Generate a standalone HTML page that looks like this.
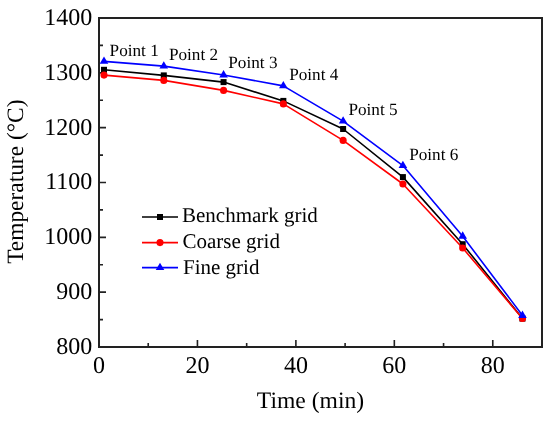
<!DOCTYPE html><html><head><meta charset="utf-8"><style>
html,body{margin:0;padding:0;background:#fff;width:550px;height:422px;overflow:hidden}
svg{display:block}
text{text-rendering:geometricPrecision;font-family:"Liberation Serif","Times New Roman",serif;fill:#000}
</style></head><body>
<svg width="550" height="422" viewBox="0 0 550 422">
<path d="M100 319.58h3M100 292.17h6M100 264.75h3M100 237.33h6M100 209.92h3M100 182.50h6M100 155.08h3M100 127.67h6M100 100.25h3M100 72.83h6M100 45.42h3M148.22 346v-3M197.44 346v-6M246.67 346v-3M295.89 346v-6M345.11 346v-3M394.33 346v-6M443.56 346v-3M492.78 346v-6" stroke="#222" stroke-width="1.6" fill="none"/>
<rect x="99" y="18" width="443" height="329" fill="none" stroke="#222" stroke-width="2"/>
<text x="92.3" y="353.8" font-size="24" text-anchor="end">800</text>
<text x="92.3" y="299.0" font-size="24" text-anchor="end">900</text>
<text x="92.3" y="244.1" font-size="24" text-anchor="end">1000</text>
<text x="92.3" y="189.3" font-size="24" text-anchor="end">1100</text>
<text x="92.3" y="134.5" font-size="24" text-anchor="end">1200</text>
<text x="92.3" y="79.6" font-size="24" text-anchor="end">1300</text>
<text x="92.3" y="24.8" font-size="24" text-anchor="end">1400</text>
<text x="99.0" y="372.5" font-size="24" text-anchor="middle">0</text>
<text x="197.4" y="372.5" font-size="24" text-anchor="middle">20</text>
<text x="295.9" y="372.5" font-size="24" text-anchor="middle">40</text>
<text x="394.3" y="372.5" font-size="24" text-anchor="middle">60</text>
<text x="492.8" y="372.5" font-size="24" text-anchor="middle">80</text>
<text x="310.5" y="408.4" font-size="23.6" text-anchor="middle">Time (min)</text>
<text transform="translate(22.8 181.7) rotate(-90)" font-size="23.4" text-anchor="middle">Temperature (°C)</text>
<polyline points="104.0,69.8 163.8,75.4 223.6,82.1 283.3,100.9 343.1,129.0 402.9,177.1 462.7,244.2 522.5,318.6" fill="none" stroke="#000" stroke-width="1.6" stroke-linejoin="round"/>
<rect x="101.00" y="66.80" width="6" height="6" fill="#000"/>
<rect x="160.78" y="72.40" width="6" height="6" fill="#000"/>
<rect x="220.56" y="79.10" width="6" height="6" fill="#000"/>
<rect x="280.34" y="97.90" width="6" height="6" fill="#000"/>
<rect x="340.12" y="126.00" width="6" height="6" fill="#000"/>
<rect x="399.90" y="174.10" width="6" height="6" fill="#000"/>
<rect x="459.68" y="241.20" width="6" height="6" fill="#000"/>
<rect x="519.46" y="315.60" width="6" height="6" fill="#000"/>
<polyline points="104.0,75.1 163.8,80.4 223.6,90.4 283.3,103.9 343.1,140.4 402.9,184.0 462.7,248.0 522.5,318.5" fill="none" stroke="#f00" stroke-width="1.6" stroke-linejoin="round"/>
<circle cx="104.00" cy="75.10" r="3.55" fill="#f00"/>
<circle cx="163.78" cy="80.40" r="3.55" fill="#f00"/>
<circle cx="223.56" cy="90.40" r="3.55" fill="#f00"/>
<circle cx="283.34" cy="103.90" r="3.55" fill="#f00"/>
<circle cx="343.12" cy="140.40" r="3.55" fill="#f00"/>
<circle cx="402.90" cy="184.00" r="3.55" fill="#f00"/>
<circle cx="462.68" cy="248.00" r="3.55" fill="#f00"/>
<circle cx="522.46" cy="318.50" r="3.55" fill="#f00"/>
<polyline points="104.0,61.4 163.8,66.1 223.6,75.0 283.3,85.9 343.1,121.1 402.9,165.6 462.7,236.3 522.5,315.5" fill="none" stroke="#00f" stroke-width="1.6" stroke-linejoin="round"/>
<polygon points="104.00,56.47 99.70,63.87 108.30,63.87" fill="#00f"/>
<polygon points="163.78,61.17 159.48,68.57 168.08,68.57" fill="#00f"/>
<polygon points="223.56,70.07 219.26,77.47 227.86,77.47" fill="#00f"/>
<polygon points="283.34,80.97 279.04,88.37 287.64,88.37" fill="#00f"/>
<polygon points="343.12,116.17 338.82,123.57 347.42,123.57" fill="#00f"/>
<polygon points="402.90,160.67 398.60,168.07 407.20,168.07" fill="#00f"/>
<polygon points="462.68,231.37 458.38,238.77 466.98,238.77" fill="#00f"/>
<polygon points="522.46,310.57 518.16,317.97 526.76,317.97" fill="#00f"/>
<text x="109.6" y="55.5" font-size="17.2">Point 1</text>
<text x="168.9" y="59.9" font-size="17.2">Point 2</text>
<text x="228.3" y="67.6" font-size="17.2">Point 3</text>
<text x="289.2" y="80.1" font-size="17.2">Point 4</text>
<text x="348.4" y="115.0" font-size="17.2">Point 5</text>
<text x="409.2" y="159.9" font-size="17.2">Point 6</text>
<path d="M142 217H178" stroke="#000" stroke-width="1.6"/>
<rect x="157.00" y="214.00" width="6" height="6" fill="#000"/>
<path d="M142 242.6H178" stroke="#f00" stroke-width="1.6"/>
<circle cx="160.00" cy="242.60" r="3.55" fill="#f00"/>
<path d="M142 267.6H178" stroke="#00f" stroke-width="1.6"/>
<polygon points="160.00,262.67 155.70,270.07 164.30,270.07" fill="#00f"/>
<text x="182" y="222.4" font-size="21">Benchmark grid</text>
<text x="182.5" y="247.8" font-size="21">Coarse grid</text>
<text x="183" y="273.6" font-size="21">Fine grid</text>
</svg></body></html>
